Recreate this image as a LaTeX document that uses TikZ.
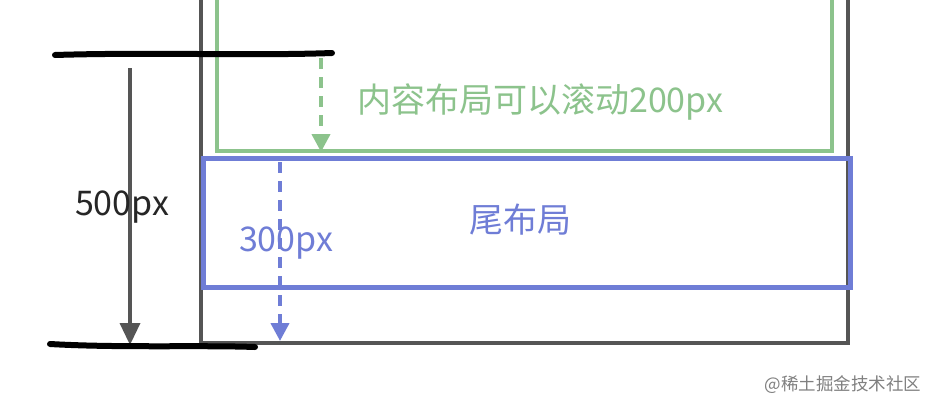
\documentclass[tikz,border=0pt]{standalone}
\usepackage{fontspec}
\setmainfont{Noto Sans CJK SC}
\usetikzlibrary{arrows.meta}
\definecolor{grn}{HTML}{8CC38C}
\definecolor{blu}{HTML}{6F7DD6}
\definecolor{gry}{HTML}{555555}
\tikzset{lbl/.style={inner sep=0pt,font=\fontsize{34}{38}\selectfont},
 dash arrow/.style={line width=4pt,dash pattern=on 11pt off 8pt,-{Triangle[length=18pt,width=18pt]}}}
\begin{document}
\begin{tikzpicture}[x=1pt,y=-1pt]
\useasboundingbox[fill=white] (0,0) rectangle (938,408);
\draw[gry,line width=4.5pt] (201,-5) -- (201,343) -- (848,343) -- (848,-5);
\draw[grn,line width=4.5pt] (217,-5) -- (217,151) -- (832,151) -- (832,-5);
\node[draw=blu,line width=4.5pt,minimum width=647pt,minimum height=129pt,anchor=north west,inner sep=0pt] (foot) at (201,156) {};
\node[lbl,text=blu] (ft) at (520,220) {尾布局};
\coordinate (g1) at (321,58); \coordinate (g2) at (321,152);
\draw[grn,dash arrow] (g1) -- (g2);
\node[lbl,text=grn,anchor=west] (gt) at (357,102) {内容布局可以滚动200px};
\coordinate (b1) at (280,162); \coordinate (b2) at (280,341);
\draw[blu,dash arrow] (b1) -- (b2);
\node[lbl,text=blu] (bt) at (286,243) {300px};
\coordinate (a1) at (130,68); \coordinate (a2) at (130,345);
\draw[gry,line width=3.5pt,-{Triangle[length=22pt,width=20pt]}] (a1) -- (a2);
\node[lbl,text=black!85] (at) at (122,207) {500px};
\draw[black,line width=6pt,line cap=round] (55,55) .. controls (150,52) and (250,56) .. (332,53);
\draw[black,line width=6pt,line cap=round] (50,344) .. controls (120,348) and (200,345) .. (255,347);
\node[inner sep=0pt,text=gray,font=\fontsize{17.5}{19}\selectfont] (wm) at (843,385) {@稀土掘金技术社区};
\end{tikzpicture}
\end{document}
